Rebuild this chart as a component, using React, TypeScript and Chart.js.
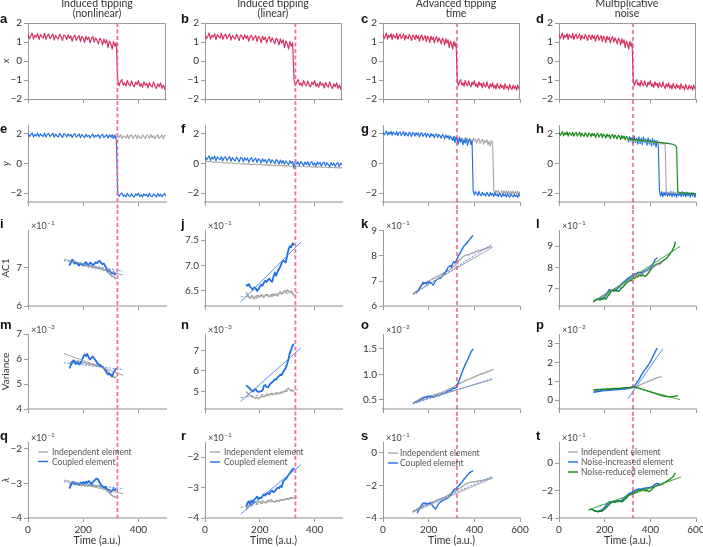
import React, { useEffect, useRef } from "react";
import { Chart, registerables } from "chart.js";
Chart.register(...registerables);

const FONT = "Lato, 'Noto Sans', sans-serif";
Chart.defaults.font.family = FONT;
Chart.defaults.color = "#333";

// ---------------- sampling ----------------
const STEP = 5;
const STEP_COARSE = 10;

// ---------------- row 1: x (shared driver) ----------------
const X_TRACE = [
  1.42, 1.18, 1.3, 1.47, 1.15, 1.36, 1.25, 1.44, 1.12, 1.39,
  1.28, 1.2, 1.46, 1.14, 1.33, 1.41, 1.17, 1.29, 1.43, 1.1,
  1.35, 1.22, 1.16, 1.4, 1.27, 1.08, 1.37, 1.31, 1.13, 1.38,
  1.19, 1.33, 1.04, 1.28, 1.36, 1.09, 1.24, 1.34, 1.02, 1.3,
  1.21, 0.97, 1.31, 1.12, 1.26, 0.95, 1.18, 1.29, 0.99, 1.22,
  1.08, 0.9, 1.2, 1.11, 0.84, 1.17, 0.94, 1.12, 0.7, 1.05,
  0.92, 0.62, 1.03, 0.78, 0.96,
  -0.98, -1.3, -1.1, -0.97, -1.27, -1.15, -1.33, -1.02, -1.22, -1.31,
  -1.05, -1.26, -1.36, -1.11, -1.24, -1.03, -1.34, -1.19, -1.39, -1.09,
  -1.28, -1.17, -1.42, -1.13, -1.3, -1.38, -1.1, -1.33, -1.45, -1.2,
  -1.36, -1.15, -1.44, -1.27, -1.48, -1.18, -1.35, -1.46, -1.22, -1.4,
  -1.29, -1.5, -1.19, -1.43, -1.34, -1.52, -1.24, -1.41, -1.49, -1.27,
  -1.45, -1.32, -1.53, -1.26, -1.47, -1.4,
];

// ---------------- row 2: y ----------------
const E_COUPLED = [
  2.04, 1.82, 1.95, 2.07, 1.79, 1.98, 1.86, 2.05, 1.8, 2.0,
  1.89, 1.83, 2.06, 1.78, 1.97, 2.03, 1.81, 1.92, 2.05, 1.77,
  1.99, 1.85, 1.79, 2.04, 1.9, 1.76, 2.02, 1.94, 1.8, 2.01,
  1.84, 1.97, 1.75, 1.93, 2.02, 1.78, 1.88, 2.0, 1.74, 1.95,
  1.86, 1.73, 1.98, 1.81, 1.92, 1.72, 1.87, 1.99, 1.76, 1.91,
  1.83, 1.96, 1.71, 1.9, 1.97, 1.75, 1.85, 1.95, 1.72, 1.93,
  1.8, 1.94, 1.7, 1.89, 1.6,
  -2.0, -2.23, -2.08, -1.98, -2.21, -2.12, -2.25, -2.02, -2.17, -2.24,
  -2.03, -2.19, -2.26, -2.06, -2.15, -2.0, -2.23, -2.11, -2.25, -2.04,
  -2.18, -2.09, -2.26, -2.01, -2.2, -2.24, -2.05, -2.16, -2.27, -2.03,
  -2.21, -2.07, -2.25, -2.12, -2.02, -2.22,
];
const E_IND_START = 300;
const E_IND = [
  1.93, 1.71, 1.86, 1.97, 1.69, 1.9, 1.75, 1.95, 1.68, 1.88,
  1.79, 1.72, 1.96, 1.67, 1.89, 1.93, 1.7, 1.84, 1.95, 1.66,
  1.91, 1.76, 1.69, 1.94, 1.82, 1.67, 1.92, 1.87, 1.7, 1.96,
  1.73, 1.89, 1.66, 1.84, 1.94, 1.69, 1.8, 1.92, 1.67, 1.9,
  1.85,
];
const F_COUPLED = [
  0.49, 0.24, 0.38, 0.52, 0.21, 0.43, 0.3, 0.5, 0.19, 0.44,
  0.33, 0.25, 0.47, 0.18, 0.39, 0.45, 0.2, 0.34, 0.46, 0.15,
  0.4, 0.26, 0.17, 0.43, 0.31, 0.12, 0.41, 0.35, 0.14, 0.39,
  0.22, 0.37, 0.09, 0.31, 0.39, 0.11, 0.27, 0.36, 0.06, 0.33,
  0.23, 0.04, 0.32, 0.14, 0.27, 0.01, 0.22, 0.3, 0.03, 0.25,
  0.12, -0.02, 0.27, 0.17, -0.05, 0.23, 0.02, 0.2, -0.06, 0.18,
  0.05, -0.09, 0.19, 0.0, 0.14, -0.35, 0.16, -0.04, 0.11, -0.13,
  0.14, 0.01, -0.14, 0.1, -0.08, 0.13, -0.16, 0.06, 0.12, -0.12,
  0.04, -0.17, 0.1, -0.05, 0.07, -0.19, 0.03, 0.09, -0.15, 0.05,
  -0.08, -0.21, 0.06, -0.12, 0.04, -0.2, -0.02, 0.05, -0.22, 0.02,
  -0.1,
];
const F_IND = [
  0.18, 0.1, 0.15, 0.08, 0.12, 0.05, 0.1, 0.02, 0.07, 0.0,
  0.05, -0.02, 0.03, -0.05, 0.01, -0.07, -0.01, -0.09, -0.03, -0.1,
  -0.05, -0.12, -0.07, -0.13, -0.09, -0.15, -0.1, -0.17, -0.12, -0.18,
  -0.14, -0.2, -0.15, -0.21, -0.17, -0.22, -0.18, -0.24, -0.2, -0.25,
  -0.21, -0.26, -0.22, -0.27, -0.24, -0.28, -0.25, -0.29, -0.26, -0.3,
  -0.28,
];
const G_COUPLED = [
  2.17, 1.93, 2.06, 2.2, 1.91, 2.11, 1.98, 2.18, 1.9, 2.13,
  2.01, 1.94, 2.16, 1.88, 2.07, 2.14, 1.89, 2.03, 2.15, 1.86,
  2.09, 1.95, 1.87, 2.12, 2.0, 1.83, 2.1, 2.04, 1.85, 2.08,
  1.92, 2.06, 1.8, 2.01, 2.09, 1.82, 1.96, 2.05, 1.78, 2.02,
  1.93, 1.76, 2.03, 1.86, 1.98, 1.73, 1.94, 2.0, 1.75, 1.96,
  1.85, 1.7, 1.95, 1.88, 1.66, 1.92, 1.74, 1.89, 1.63, 1.86,
  1.72, 1.55, 1.84, 1.4, 1.78, 1.62, 1.3, 1.74, 1.45, 1.66,
  1.25, 1.6, 1.38, 1.68, 1.22, 1.55, 1.64, 1.28, 1.5, -1.88,
  -2.12, -1.9, -2.03, -2.16, -1.88, -2.08, -2.18, -1.95, -2.13, -2.05,
  -2.19, -1.94, -2.1, -2.21, -1.97, -2.14, -2.02, -2.22, -1.96, -2.17,
  -2.08, -2.24, -1.99, -2.16, -2.25, -2.03, -2.19, -2.1, -2.27, -2.01,
  -2.2, -2.28, -2.05, -2.18, -2.26, -2.07, -2.23, -2.12, -2.3, -2.04,
  -2.22,
];
const G_IND_START = 300;
const G_IND = [
  1.79, 1.56, 1.7, 1.83, 1.53, 1.74, 1.6, 1.81, 1.5, 1.72,
  1.63, 1.47, 1.76, 1.55, 1.68, 1.44, 1.71, 1.58, 1.42, 1.7,
  1.52, 1.66, 1.37, 1.6, 1.69, 1.35, 1.55, 1.64, 1.3, 1.58,
  1.4, 1.61, 1.24, 1.5, 1.18, 1.54, 1.45, -1.8, -2.0, -1.82,
  -2.02, -1.81, -2.0, -2.05, -1.83, -2.03, -1.84, -2.06, -1.85, -2.04,
  -1.86, -2.07, -1.87, -2.05, -1.85, -2.08, -1.88, -2.06, -1.86, -2.09,
  -1.9,
];
const H_GREEN = [
  2.13, 1.89, 2.02, 2.16, 1.86, 2.07, 1.94, 2.14, 1.85, 2.09,
  1.97, 1.9, 2.12, 1.84, 2.03, 2.1, 1.85, 1.99, 2.11, 1.82,
  2.05, 1.91, 1.83, 2.08, 1.96, 1.79, 2.06, 2.0, 1.81, 2.04,
  1.88, 2.02, 1.76, 1.97, 2.05, 1.78, 1.92, 2.01, 1.74, 1.98,
  1.89, 1.72, 1.99, 1.82, 1.94, 1.69, 1.9, 1.96, 1.71, 1.92,
  1.81, 1.66, 1.91, 1.84, 1.62, 1.88, 1.7, 1.85, 1.59, 1.82,
  1.78, 1.6, 1.72, 1.62, 1.66, 1.59, 1.65, 1.57, 1.62, 1.56,
  1.59, 1.55, 1.57, 1.53, 1.55, 1.52, 1.54, 1.5, 1.52, 1.49,
  1.5, 1.47, 1.49, 1.45, 1.47, 1.44, 1.45, 1.42, 1.44, 1.4,
  1.42, 1.38, 1.4, 1.36, 1.38, 1.35, 1.36, 1.32, 1.33, 1.3,
  1.3, 1.25, 1.2, 1.1, -1.9, -1.96, -1.99, -1.97, -2.0, -1.98,
  -2.01, -1.99, -2.02, -2.0, -2.03, -2.01, -2.04, -2.02, -2.05, -2.03,
  -2.04,
];
const H_SIDE_START = 300;
const H_BLUE = [
  1.7, 1.45, 1.82, 1.5, 1.75, 1.38, 1.85, 1.42, 1.7, 1.3,
  1.8, 1.35, 1.72, 1.28, 1.78, 1.4, 1.65, 1.22, 1.75, 1.32,
  1.62, 1.18, 1.7, 1.25, 1.58, 1.1, 1.55, 1.2, -1.85, -2.2,
  -1.9, -2.25, -1.95, -2.15, -1.85, -2.22, -1.98, -2.18, -1.88, -2.25,
  -1.92, -2.2, -1.96, -2.28, -1.9, -2.17, -2.0, -2.24, -1.89, -2.21,
  -1.95, -2.26, -1.93, -2.19, -2.02, -2.27, -1.94, -2.2, -1.99, -2.28,
  -2.05,
];
const H_GRAY = [
  1.66, 1.55, 1.64, 1.53, 1.62, 1.52, 1.61, 1.5, 1.6, 1.49,
  1.58, 1.47, 1.57, 1.46, 1.55, 1.44, 1.54, 1.43, 1.52, 1.41,
  1.51, 1.4, 1.49, 1.38, 1.47, 1.36, 1.46, 1.34, 1.44, 1.32,
  1.42, 1.3, 1.38, 1.25, -1.92, -1.98, -1.94, -2.0, -1.95, -2.01,
  -1.96, -2.02, -1.97, -2.01, -1.95, -2.03, -1.98, -2.02, -1.96, -2.04,
  -1.99, -2.03, -1.97, -2.05, -2.0, -2.04, -1.98, -2.05, -2.01, -2.06,
  -2.02,
];

// ---------------- rows 3-5: indicators (values in displayed units) ----------------
const IND_START = 150;
const I_COUPLED = [
  7.05, 7.12, 7.2, 7.17, 7.1, 7.13, 7.08, 7.05, 7.11, 7.09,
  7.06, 7.1, 7.14, 7.09, 7.07, 7.12, 7.1, 7.06, 7.09, 7.13,
  7.11, 7.15, 7.17, 7.12, 7.08, 7.1, 7.03, 6.97, 6.9, 6.93,
  6.87, 6.84, 6.88, 6.82, 6.85,
];
const I_IND = [
  7.15, 7.13, 7.16, 7.12, 7.1, 7.13, 7.09, 7.07, 7.1, 7.06,
  7.04, 7.07, 7.03, 7.05, 7.01, 7.04, 7.02, 6.99, 7.02, 6.98,
  7.0, 6.97, 6.99, 6.95, 6.97, 6.93, 6.95, 6.9, 6.86, 6.84,
  6.8, 6.76, 6.78, 6.72, 6.7,
];
const I_FIT_IND = [[130, 7.22], [345, 6.8]];
const I_FIT_CPL = [[130, 7.18], [345, 6.9]];

const M_COUPLED = [
  5.62, 5.75, 5.88, 5.95, 5.85, 5.8, 5.86, 5.78, 5.82, 5.95,
  6.08, 6.18, 6.12, 6.2, 6.05, 5.98, 6.05, 6.1, 6.02, 5.95,
  5.85, 5.8, 5.76, 5.72, 5.7, 5.62, 5.55, 5.45, 5.38, 5.42,
  5.35, 5.3, 5.45, 5.55, 5.62,
];
const M_IND = [
  5.8, 5.86, 5.9, 5.85, 5.92, 5.88, 5.93, 5.9, 5.86, 5.88,
  5.84, 5.86, 5.82, 5.8, 5.83, 5.79, 5.78, 5.8, 5.76, 5.74,
  5.76, 5.72, 5.7, 5.72, 5.67, 5.63, 5.6, 5.55, 5.5, 5.45,
  5.4, 5.33, 5.28, 5.25, 5.3,
];
const M_FIT_IND = [[130, 6.22], [345, 5.35]];
const M_FIT_CPL = [[130, 5.85], [345, 5.58]];

const Q_COUPLED = [
  -3.15, -3.05, -2.98, -2.95, -3.02, -2.98, -3.0, -3.03, -2.97, -3.01,
  -2.96, -3.0, -2.95, -2.99, -2.93, -2.97, -3.02, -2.96, -2.92, -2.88,
  -2.86, -2.9, -2.98, -3.05, -3.08, -3.12, -3.1, -3.15, -3.2, -3.18,
  -3.25, -3.2, -3.16, -3.19, -3.15,
];
const Q_IND = [
  -3.0, -3.02, -2.99, -3.03, -3.0, -3.04, -3.02, -3.05, -3.03, -3.06,
  -3.04, -3.07, -3.05, -3.08, -3.06, -3.04, -3.07, -3.05, -3.08, -3.06,
  -3.09, -3.07, -3.1, -3.12, -3.1, -3.14, -3.16, -3.2, -3.24, -3.28,
  -3.32, -3.35, -3.38, -3.4, -3.37,
];
const Q_FIT_IND = [[130, -2.9], [345, -3.3]];
const Q_FIT_CPL = [[130, -2.95], [345, -3.15]];

const J_COUPLED = [
  6.62, 6.6, 6.63, 6.58, 6.55, 6.52, 6.57, 6.55, 6.5, 6.53,
  6.58, 6.62, 6.6, 6.66, 6.7, 6.68, 6.72, 6.74, 6.7, 6.68,
  6.78, 6.86, 6.8, 6.88, 6.93, 6.98, 7.05, 7.1, 7.08, 7.06,
  7.2, 7.32, 7.38, 7.36, 7.44, 7.4,
];
const J_IND = [
  6.47, 6.42, 6.38, 6.35, 6.4, 6.37, 6.34, 6.39, 6.36, 6.4,
  6.38, 6.42, 6.39, 6.37, 6.41, 6.43, 6.4, 6.38, 6.42, 6.39,
  6.44, 6.41, 6.43, 6.4, 6.45, 6.48, 6.44, 6.46, 6.5, 6.47,
  6.52, 6.49, 6.47, 6.5, 6.45, 6.4,
];
const J_FIT_IND = [[130, 6.38], [345, 6.47]];
const J_FIT_CPL = [[130, 6.28], [350, 7.46]];

const N_COUPLED = [
  5.3, 5.25, 5.2, 5.12, 5.05, 5.0, 5.08, 5.12, 5.02, 4.98,
  5.0, 5.02, 5.05, 5.28, 5.32, 5.22, 5.2, 5.3, 5.4, 5.45,
  5.52, 5.6, 5.58, 5.7, 5.75, 5.82, 5.8, 5.95, 6.05, 6.15,
  6.35, 6.6, 6.9, 7.05, 7.25, 7.3,
];
const N_IND = [
  5.0, 4.92, 4.85, 4.8, 4.77, 4.73, 4.7, 4.68, 4.72, 4.65,
  4.7, 4.75, 4.78, 4.74, 4.8, 4.83, 4.8, 4.85, 4.88, 4.84,
  4.86, 4.9, 4.88, 4.92, 4.9, 4.95, 4.93, 4.98, 5.0, 5.05,
  5.12, 5.16, 5.08, 5.04, 5.06, 5.0,
];
const N_FIT_IND = [[130, 4.7], [345, 5.1]];
const N_FIT_CPL = [[130, 4.52], [350, 7.12]];

const R_COUPLED = [
  -3.65, -3.5, -3.45, -3.55, -3.42, -3.48, -3.4, -3.35, -3.3, -3.38,
  -3.33, -3.35, -3.28, -3.22, -3.26, -3.2, -3.18, -3.22, -3.12, -3.1,
  -3.15, -3.12, -3.05, -3.0, -3.02, -2.95, -2.98, -2.8, -2.75, -2.72,
  -2.65, -2.58, -2.52, -2.45, -2.4, -2.35,
];
const R_IND = [
  -3.72, -3.65, -3.58, -3.55, -3.6, -3.52, -3.5, -3.48, -3.53, -3.46,
  -3.45, -3.49, -3.44, -3.47, -3.5, -3.46, -3.42, -3.45, -3.4, -3.43,
  -3.46, -3.48, -3.44, -3.42, -3.45, -3.4, -3.42, -3.39, -3.41, -3.37,
  -3.36, -3.38, -3.34, -3.33, -3.36, -3.35,
];
const R_FIT_IND = [[130, -3.65], [345, -3.3]];
const R_FIT_CPL = [[130, -3.87], [350, -2.25]];

const K_CPL_START = 145;
const K_COUPLED = [
  6.5, 6.58, 6.62, 6.7, 6.78, 6.85, 6.95, 6.9, 6.93, 6.88,
  6.95, 6.92, 6.97, 6.93, 6.88, 6.84, 6.92, 7.0, 7.05, 7.08,
  7.12, 7.1, 7.15, 7.2, 7.25, 7.3, 7.38, 7.45, 7.55, 7.58,
  7.62, 7.55, 7.7, 7.78, 7.72, 7.8, 7.9, 8.0, 8.08, 8.15,
  8.25, 8.32, 8.4, 8.45, 8.5, 8.55, 8.6, 8.68, 8.72, 8.78,
  8.82,
];
const K_IND_START = 135;
const K_IND = [
  6.48, 6.58, 6.66, 6.8, 6.86, 6.92, 6.98, 7.02, 7.08, 7.12,
  7.18, 7.2, 7.27, 7.3, 7.38, 7.42, 7.47, 7.55, 7.62, 7.72,
  7.85, 7.93, 8.0, 8.05, 8.04, 8.1, 8.13, 8.17, 8.2, 8.22,
  8.26, 8.28, 8.32, 8.35, 8.38,
];
const K_FIT_IND = [[130, 6.5], [480, 8.35]];
const K_FIT_CPL = [[130, 6.45], [480, 8.48]];

const O_START = 135;
const O_COUPLED = [
  0.44, 0.45, 0.46, 0.46, 0.48, 0.49, 0.5, 0.51, 0.53, 0.54,
  0.55, 0.55, 0.56, 0.57, 0.56, 0.57, 0.56, 0.55, 0.56, 0.57,
  0.58, 0.59, 0.58, 0.6, 0.61, 0.62, 0.63, 0.63, 0.64, 0.66,
  0.67, 0.68, 0.68, 0.7, 0.72, 0.73, 0.72, 0.74, 0.78, 0.84,
  0.9, 0.96, 1.02, 1.08, 1.14, 1.19, 1.23, 1.28, 1.33, 1.38,
  1.43, 1.47, 1.5,
];
const O_IND = [
  0.44, 0.47, 0.5, 0.53, 0.55, 0.56, 0.57, 0.56, 0.58, 0.6,
  0.61, 0.63, 0.64, 0.66, 0.68, 0.7, 0.72, 0.74, 0.77, 0.8,
  0.82, 0.84, 0.86, 0.89, 0.9, 0.92, 0.94, 0.96, 0.98, 1.0,
  1.01, 1.03, 1.05, 1.06, 1.08, 1.1,
];
const O_FIT_IND = [[130, 0.44], [480, 0.9]];
const O_FIT_CPL = [[130, 0.42], [480, 0.92]];

const S_COUPLED = [
  -3.7, -3.55, -3.42, -3.3, -3.18, -3.12, -3.08, -3.12, -3.1, -3.15,
  -3.12, -3.08, -3.12, -3.2, -3.3, -3.38, -3.45, -3.35, -3.22, -3.1,
  -3.05, -2.98, -2.95, -2.9, -2.88, -2.85, -2.8, -2.75, -2.7, -2.62,
  -2.55, -2.4, -2.28, -2.22, -2.2, -2.12, -2.05, -1.98, -1.9, -1.82,
  -1.72, -1.62, -1.55, -1.45, -1.38, -1.3, -1.22, -1.18, -1.14, -1.12,
];
const S_IND_START = 130;
const S_IND = [
  -3.65, -3.55, -3.45, -3.38, -3.3, -3.22, -3.18, -3.1, -3.05, -3.0,
  -2.95, -2.88, -2.85, -2.78, -2.72, -2.65, -2.58, -2.48, -2.4, -2.3,
  -2.22, -2.15, -2.05, -1.95, -1.88, -1.82, -1.8, -1.78, -1.76, -1.72,
  -1.7, -1.68, -1.65, -1.62, -1.58, -1.55,
];
const S_FIT_IND = [[130, -3.65], [480, -1.55]];
const S_FIT_CPL = [[130, -3.58], [480, -1.45]];

const L_GREEN = [
  6.4, 6.45, 6.5, 6.48, 6.52, 6.5, 6.48, 6.53, 6.55, 6.52,
  6.55, 6.52, 6.6, 6.68, 6.75, 6.82, 6.92, 6.95, 6.92, 6.94,
  6.9, 6.92, 6.88, 6.93, 7.0, 7.05, 7.08, 7.15, 7.2, 7.28,
  7.32, 7.35, 7.4, 7.38, 7.45, 7.5, 7.48, 7.55, 7.58, 7.55,
  7.62, 7.65, 7.6, 7.68, 7.62, 7.58, 7.6, 7.65, 7.72, 7.8,
  7.88, 7.95, 8.0, 8.05, 8.1, 8.12, 8.15, 8.18, 8.16, 8.2,
  8.25, 8.3, 8.35, 8.38, 8.42, 8.48, 8.55, 8.62, 8.7, 8.78,
  8.88, 9.0, 9.2,
];
const L_BLUE = [
  6.42, 6.5, 6.53, 6.5, 6.56, 6.62, 6.8, 6.96, 6.93, 6.9,
  6.95, 7.05, 7.18, 7.3, 7.38, 7.48, 7.55, 7.62, 7.7, 7.72,
  7.78, 7.75, 7.8, 7.85, 7.92, 8.0, 8.1, 8.35, 8.45,
];
const L_GRAY = [
  6.45, 6.48, 6.52, 6.55, 6.58, 6.65, 6.75, 6.88, 6.92, 6.95,
  7.0, 7.06, 7.12, 7.22, 7.3, 7.38, 7.45, 7.5, 7.56, 7.62,
  7.68, 7.72, 7.76, 7.82, 7.88, 7.95, 8.02, 8.1, 8.18, 8.24,
  8.3,
];
const L_FIT_GREEN = [[150, 6.38], [530, 8.98]];
const L_FIT_GRAY = [[150, 6.45], [450, 8.25]];

const P_BLUE = [
  0.42, 0.44, 0.46, 0.48, 0.5, 0.51, 0.52, 0.53, 0.54, 0.55,
  0.56, 0.57, 0.58, 0.59, 0.6, 0.62, 0.64, 0.68, 0.75, 0.92,
  1.1, 1.32, 1.52, 1.68, 1.85, 2.05, 2.3, 2.55, 2.78,
];
const P_GRAY = [
  0.5, 0.51, 0.52, 0.53, 0.54, 0.55, 0.56, 0.56, 0.57, 0.58,
  0.59, 0.6, 0.61, 0.62, 0.63, 0.64, 0.65, 0.66, 0.68, 0.72,
  0.78, 0.84, 0.9, 0.95, 1.0, 1.05, 1.1, 1.15, 1.2, 1.23,
  1.26,
];
const P_GREEN = [
  0.55, 0.56, 0.57, 0.57, 0.58, 0.59, 0.6, 0.6, 0.61, 0.62,
  0.62, 0.63, 0.64, 0.65, 0.66, 0.67, 0.68, 0.7, 0.71, 0.68,
  0.64, 0.6, 0.56, 0.52, 0.48, 0.45, 0.4, 0.36, 0.32, 0.28,
  0.25, 0.22, 0.2, 0.18, 0.17, 0.19, 0.22, 0.25,
];
const P_FIT_BLUE = [[300, 0.05], [455, 2.75]];
const P_FIT_GREEN = [[320, 0.72], [530, 0.03]];

const T_GREEN_START = 130;
const T_GREEN = [
  -3.4, -3.38, -3.35, -3.38, -3.42, -3.48, -3.52, -3.5, -3.55, -3.53,
  -3.5, -3.52, -3.48, -3.42, -3.35, -3.28, -3.2, -3.1, -3.02, -2.95,
  -2.85, -2.8, -2.83, -2.86, -2.82, -2.78, -2.8, -2.76, -2.79, -2.82,
  -2.78, -2.7, -2.62, -2.55, -2.45, -2.38, -2.32, -2.28, -2.22, -2.2,
  -2.15, -2.12, -2.08, -2.02, -1.98, -1.95, -1.97, -1.93, -1.96, -2.0,
  -2.02, -1.98, -2.04, -2.08, -2.02, -1.95, -1.85, -1.78, -1.72, -1.68,
  -1.62, -1.58, -1.6, -1.55, -1.52, -1.48, -1.45, -1.4, -1.35, -1.3,
  -1.25, -1.2, -1.12, -1.05, -0.98, -0.85, -0.72,
];
const T_BLUE = [
  -3.45, -3.5, -3.52, -3.48, -3.4, -3.22, -3.0, -2.82, -2.85, -2.8,
  -2.78, -2.76, -2.8, -2.65, -2.5, -2.3, -2.2, -2.12, -2.02, -1.92,
  -1.88, -1.9, -1.85, -1.82, -1.8, -1.78, -1.7, -1.55, -1.48, -1.52,
];
const T_GRAY = [
  -3.42, -3.48, -3.5, -3.45, -3.38, -3.25, -3.05, -2.9, -2.85, -2.82,
  -2.8, -2.78, -2.75, -2.62, -2.48, -2.35, -2.22, -2.15, -2.08, -2.02,
  -1.96, -1.93, -1.9, -1.87, -1.84, -1.8, -1.76, -1.7, -1.65, -1.62,
  -1.58, -1.55,
];
const T_FIT_GREEN = [[130, -3.4], [535, -1.02]];

// ---------------- axes ----------------
const COLUMN_TITLES = [
  ["Induced tipping", "(nonlinear)"],
  ["Induced tipping", "(linear)"],
  ["Advanced tipping", "time"],
  ["Multiplicative", "noise"],
];
const ROW_LABELS = ["x", "y", "AC1", "Variance", "λ"];
const ROW_LABEL_ITALIC = [true, true, false, false, true];
const LETTERS = [
  ["a", "b", "c", "d"],
  ["e", "f", "g", "h"],
  ["i", "j", "k", "l"],
  ["m", "n", "o", "p"],
  ["q", "r", "s", "t"],
];
const X_MAX = [500, 500, 600, 600];
const X_TICKS = [[0, 200, 400], [0, 200, 400], [0, 200, 400, 600], [0, 200, 400, 600]];
const TIP_TIME = [324, 330, 324, 324];
const X_TITLE = "Time (a.u.)";

const Y_RANGE = [
  [[-2, 2], [-2, 2], [-2, 2], [-2, 2]],
  [[-2.6, 2.6], [-2.6, 2.6], [-2.6, 2.6], [-2.6, 2.6]],
  [[6, 7.97], [6.2, 7.7], [6, 9.04], [6.2, 9.75]],
  [[4, 7], [4.15, 7.8], [0.32, 1.79], [-0.47, 3.53]],
  [[-4, -1.8], [-4, -1.5], [-4, 0.65], [-4, 1.53]],
];
const Y_TICKS = [
  [[-2, -1, 0, 1, 2], [-2, -1, 0, 1, 2], [-2, -1, 0, 1, 2], [-2, -1, 0, 1, 2]],
  [[-2, 0, 2], [-2, 0, 2], [-2, 0, 2], [-2, 0, 2]],
  [[6, 7], [6.5, 7, 7.5], [6, 7, 8, 9], [7, 8, 9]],
  [[4, 5, 6, 7], [5, 6, 7], [0.5, 1, 1.5], [0, 1, 2, 3]],
  [[-4, -3, -2], [-4, -3, -2], [-4, -2, 0], [-4, -2, 0]],
];
const Y_DECIMALS = [
  [0, 0, 0, 0],
  [0, 0, 0, 0],
  [0, 1, 0, 0],
  [0, 0, 1, 0],
  [0, 0, 0, 0],
];
const ROW_EXPONENT = [
  [null, null, null, null],
  [null, null, null, null],
  ["−1", "−1", "−1", "−1"],
  ["−3", "−3", "−2", "−2"],
  ["−1", "−1", "−1", "−1"],
];
const LEGEND_IND = "Independent element";
const LEGEND_CPL = "Coupled element";
const LEGEND_INC = "Noise-increased element";
const LEGEND_RED = "Noise-reduced element";

// ---------------- styles / layout ----------------
const RED = "#d42f5c";
const BLUE = "#1f6fe2";
const GRAY = "#a9a9a9";
const GREEN = "#16871b";
const FIT_GRAY = "#9a9a9a";
const FIT_BLUE = "#4287ea";
const FIT_GREEN = "#2d9b31";

const COL_LEFT = [28, 205, 383, 559];
const COL_WIDTH = [138, 137, 137, 137];
const ROW_TOP = [23, 125, 230, 334, 442];
const ROW_BOTTOM = [99, 202, 306, 409, 518];
const X_AXIS_H = [8, 8, 8, 8, 29];
const Y_AXIS_W = [28, 30, 30, 30];
const PAD_RIGHT = 9;
const FIRST_PAD_TOP = 10;
const TITLE_CENTER = [97, 273, 456, 627];
const LETTER_LEFT = [0, 181, 361, 536];
const LETTER_BASE = [23, 133, 228, 329, 440];

const xy = (start: number, step: number, vals: number[]) =>
  vals.map((y, i) => ({ x: start + i * step, y }));
const seg = (pts: number[][]) => pts.map(([x, y]) => ({ x, y }));

type Line = { data: { x: number; y: number }[]; color: string; width: number; dash?: number[] };
const noise = (data: any, color: string): Line => ({ data, color, width: 1.15 });
const curve = (data: any, color: string, width = 1.6): Line => ({ data, color, width });
const fitLine = (pts: number[][], color: string, dash?: number[]): Line => ({
  data: seg(pts),
  color,
  width: 0.9,
  dash,
});

// series listed bottom -> top
const SERIES: Line[][][] = [
  [
    [noise(xy(0, STEP, X_TRACE), RED)],
    [noise(xy(0, STEP, X_TRACE), RED)],
    [noise(xy(0, STEP, X_TRACE), RED)],
    [noise(xy(0, STEP, X_TRACE), RED)],
  ],
  [
    [noise(xy(E_IND_START, STEP, E_IND), GRAY), noise(xy(0, STEP, E_COUPLED), BLUE)],
    [noise(xy(0, STEP_COARSE, F_IND), GRAY), noise(xy(0, STEP, F_COUPLED), BLUE)],
    [noise(xy(G_IND_START, STEP, G_IND), GRAY), noise(xy(0, STEP, G_COUPLED), BLUE)],
    [
      noise(xy(H_SIDE_START, STEP, H_BLUE), BLUE),
      noise(xy(H_SIDE_START, STEP, H_GRAY), GRAY),
      noise(xy(0, STEP, H_GREEN), GREEN),
    ],
  ],
  [
    [curve(xy(IND_START, STEP, I_IND), GRAY), curve(xy(IND_START, STEP, I_COUPLED), BLUE, 1.8), fitLine(I_FIT_IND, FIT_GRAY), fitLine(I_FIT_CPL, FIT_BLUE, [2, 1.5])],
    [curve(xy(IND_START, STEP, J_IND), GRAY), curve(xy(IND_START, STEP, J_COUPLED), BLUE, 1.8), fitLine(J_FIT_IND, FIT_GRAY, [3, 2]), fitLine(J_FIT_CPL, FIT_BLUE)],
    [curve(xy(K_IND_START, STEP_COARSE, K_IND), GRAY, 1.4), curve(xy(K_CPL_START, STEP, K_COUPLED), BLUE, 1.4), fitLine(K_FIT_IND, FIT_GRAY), fitLine(K_FIT_CPL, FIT_BLUE, [2, 1.5])],
    [curve(xy(IND_START, STEP_COARSE, L_GRAY), GRAY, 1.4), curve(xy(IND_START, STEP_COARSE, L_BLUE), BLUE, 1.4), curve(xy(IND_START, STEP, L_GREEN), GREEN, 1.4), fitLine(L_FIT_GRAY, FIT_GRAY), fitLine(L_FIT_GREEN, FIT_GREEN)],
  ],
  [
    [curve(xy(IND_START, STEP, M_IND), GRAY), curve(xy(IND_START, STEP, M_COUPLED), BLUE, 1.8), fitLine(M_FIT_IND, FIT_GRAY), fitLine(M_FIT_CPL, FIT_BLUE, [2, 1.5])],
    [curve(xy(IND_START, STEP, N_IND), GRAY), curve(xy(IND_START, STEP, N_COUPLED), BLUE, 1.8), fitLine(N_FIT_IND, FIT_GRAY, [3, 2]), fitLine(N_FIT_CPL, FIT_BLUE)],
    [curve(xy(O_START, STEP_COARSE, O_IND), GRAY, 1.4), curve(xy(O_START, STEP, O_COUPLED), BLUE, 1.4), fitLine(O_FIT_IND, FIT_GRAY), fitLine(O_FIT_CPL, FIT_BLUE, [2, 1.5])],
    [curve(xy(IND_START, STEP_COARSE, P_GRAY), GRAY, 1.4), curve(xy(IND_START, STEP_COARSE, P_BLUE), BLUE, 1.4), curve(xy(IND_START, STEP_COARSE, P_GREEN), GREEN, 1.4), fitLine(P_FIT_BLUE, FIT_BLUE), fitLine(P_FIT_GREEN, FIT_GREEN)],
  ],
  [
    [curve(xy(IND_START, STEP, Q_IND), GRAY), curve(xy(IND_START, STEP, Q_COUPLED), BLUE, 1.8), fitLine(Q_FIT_IND, FIT_GRAY), fitLine(Q_FIT_CPL, FIT_BLUE, [2, 1.5])],
    [curve(xy(IND_START, STEP, R_IND), GRAY), curve(xy(IND_START, STEP, R_COUPLED), BLUE, 1.8), fitLine(R_FIT_IND, FIT_GRAY, [3, 2]), fitLine(R_FIT_CPL, FIT_BLUE)],
    [curve(xy(S_IND_START, STEP_COARSE, S_IND), GRAY, 1.4), curve(xy(IND_START, STEP, S_COUPLED), BLUE, 1.4), fitLine(S_FIT_IND, FIT_GRAY), fitLine(S_FIT_CPL, FIT_BLUE, [2, 1.5])],
    [curve(xy(IND_START, STEP_COARSE, T_GRAY), GRAY, 1.4), curve(xy(IND_START, STEP_COARSE, T_BLUE), BLUE, 1.4), curve(xy(T_GREEN_START, STEP, T_GREEN), GREEN, 1.4), fitLine(T_FIT_GREEN, FIT_GREEN)],
  ],
];

const LEGENDS: any[] = [
  { x: 10, textX: 24, y: 10, dy: 9.5, items: [{ label: LEGEND_IND, color: GRAY }, { label: LEGEND_CPL, color: BLUE }] },
  { x: 5, textX: 19, y: 10, dy: 10, items: [{ label: LEGEND_IND, color: GRAY }, { label: LEGEND_CPL, color: BLUE }] },
  { x: 5, textX: 17, y: 11, dy: 10, items: [{ label: LEGEND_IND, color: GRAY }, { label: LEGEND_CPL, color: BLUE }] },
  {
    x: 9, textX: 22, y: 10, dy: 10,
    items: [
      { label: LEGEND_IND, color: GRAY },
      { label: LEGEND_INC, color: BLUE },
      { label: LEGEND_RED, color: GREEN },
    ],
  },
];

// ---------------- plugins ----------------
const framePlugin = {
  id: "frameBox",
  afterDraw(chart: any, _a: any, opts: any) {
    if (!opts || !opts.display) return;
    const { ctx, chartArea: a } = chart;
    ctx.save();
    ctx.strokeStyle = "#9a9a9a";
    ctx.lineWidth = 1;
    ctx.beginPath();
    ctx.moveTo(a.left, a.top + 0.5);
    ctx.lineTo(a.right - 0.5, a.top + 0.5);
    ctx.lineTo(a.right - 0.5, a.bottom);
    ctx.stroke();
    ctx.restore();
  },
};
const tipPlugin = {
  id: "tipLine",
  afterDatasetsDraw(chart: any, _a: any, opts: any) {
    if (!opts || opts.value == null) return;
    const { ctx, chartArea: a } = chart;
    const x = chart.scales.x.getPixelForValue(opts.value);
    const y0 = opts.fromTop ? a.top : 0;
    const y1 = opts.toBottom ? a.bottom : chart.height;
    ctx.save();
    ctx.strokeStyle = opts.color;
    ctx.lineWidth = opts.width;
    ctx.setLineDash(opts.dash);
    ctx.beginPath();
    ctx.moveTo(x, y0);
    ctx.lineTo(x, y1);
    ctx.stroke();
    ctx.restore();
  },
};
const legendPlugin = {
  id: "legendBox",
  afterDraw(chart: any, _a: any, opts: any) {
    if (!opts || !opts.items) return;
    const { ctx, chartArea: a } = chart;
    ctx.save();
    opts.items.forEach((it: any, k: number) => {
      const y = a.top + opts.y + k * opts.dy;
      ctx.strokeStyle = it.color;
      ctx.lineWidth = 1.4;
      ctx.beginPath();
      ctx.moveTo(a.left + opts.x, y);
      ctx.lineTo(a.left + opts.x + 10, y);
      ctx.stroke();
      ctx.fillStyle = "#555";
      ctx.font = `8.5px ${FONT}`;
      ctx.textBaseline = "middle";
      ctx.textAlign = "left";
      ctx.fillText(it.label, a.left + opts.textX, y + 0.5);
    });
    ctx.restore();
  },
};
const expPlugin = {
  id: "expLabel",
  afterDraw(chart: any, _a: any, opts: any) {
    if (!opts || !opts.exp) return;
    const { ctx, chartArea: a } = chart;
    ctx.save();
    ctx.fillStyle = "#444";
    ctx.textBaseline = "alphabetic";
    ctx.textAlign = "left";
    ctx.font = `9px ${FONT}`;
    const base = "×10";
    const x0 = a.left + 3;
    const y0 = a.top - 1;
    ctx.fillText(base, x0, y0);
    const w = ctx.measureText(base).width;
    ctx.font = `6.5px ${FONT}`;
    ctx.fillText(opts.exp, x0 + w + 0.5, y0 - 4);
    ctx.restore();
  },
};

function layoutFor(r: number, c: number) {
  const top = r === 0 ? ROW_TOP[0] - FIRST_PAD_TOP : ROW_BOTTOM[r - 1] + X_AXIS_H[r - 1];
  const padTop = ROW_TOP[r] - top;
  const height = padTop + ROW_BOTTOM[r] - ROW_TOP[r] + X_AXIS_H[r];
  const left = COL_LEFT[c] - Y_AXIS_W[c];
  const width = Y_AXIS_W[c] + COL_WIDTH[c] + PAD_RIGHT;
  return { top, left, width, height, padTop };
}

const fmt = (v: number, dec: number) => (dec ? v.toFixed(dec) : String(Math.round(v))).replace("-", "−");

function buildConfig(r: number, c: number): any {
  const lay = layoutFor(r, c);
  const series = SERIES[r][c];
  const n = series.length;
  const dec = Y_DECIMALS[r][c];
  const [ymin, ymax] = Y_RANGE[r][c];
  const tickFont = { family: FONT, size: 10 };
  const light = c < 2;
  return {
    type: "line",
    data: {
      datasets: series.map((s, i) => ({
        data: s.data,
        borderColor: s.color,
        borderWidth: s.width,
        borderDash: s.dash || [],
        pointRadius: 0,
        fill: false,
        tension: 0,
        order: n - i,
        borderJoinStyle: "round",
      })),
    },
    options: {
      animation: false,
      responsive: true,
      maintainAspectRatio: false,
      events: [],
      layout: { padding: { top: lay.padTop, right: PAD_RIGHT, left: 0, bottom: 0 } },
      scales: {
        x: {
          type: "linear",
          min: 0,
          max: X_MAX[c],
          bounds: "data",
          afterBuildTicks: (s: any) => {
            s.ticks = X_TICKS[c].map((v) => ({ value: v }));
          },
          afterFit: (s: any) => {
            s.height = X_AXIS_H[r];
            s.paddingLeft = 0;
            s.paddingRight = 0;
          },
          grid: { drawOnChartArea: false, drawTicks: true, tickLength: 4, color: "#9a9a9a", lineWidth: 1 },
          border: { display: true, color: r === 0 ? "#9a9a9a" : "#c6c6c6", width: r === 0 ? 1 : 2 },
          ticks: {
            display: r === 4,
            autoSkip: false,
            maxRotation: 0,
            padding: 2,
            font: tickFont,
            color: "#333",
            callback: (v: number) => fmt(v, 0),
          },
          title: {
            display: r === 4,
            text: X_TITLE,
            font: { family: FONT, size: 10.5, lineHeight: 1.2 },
            color: "#333",
            padding: { top: 0, bottom: 0 },
          },
        },
        y: {
          type: "linear",
          min: ymin,
          max: ymax,
          bounds: "data",
          afterBuildTicks: (s: any) => {
            s.ticks = Y_TICKS[r][c].map((v) => ({ value: v }));
          },
          afterFit: (s: any) => {
            s.width = Y_AXIS_W[c];
            s.paddingTop = 0;
            s.paddingBottom = 0;
          },
          grid: { drawOnChartArea: false, drawTicks: true, tickLength: 4, color: "#9a9a9a", lineWidth: 1 },
          border: { display: true, color: "#9a9a9a", width: 1 },
          ticks: {
            autoSkip: false,
            padding: 2,
            font: tickFont,
            color: "#333",
            callback: (v: number) => fmt(v, dec),
          },
          title: {
            display: c === 0,
            text: ROW_LABELS[r],
            font: { family: FONT, size: 10, style: ROW_LABEL_ITALIC[r] ? "italic" : "normal", lineHeight: 1 },
            color: "#333",
            padding: { top: 1, bottom: 0 },
          },
        },
      },
      plugins: {
        legend: { display: false },
        tooltip: { enabled: false },
        frameBox: { display: r === 0 },
        tipLine: {
          value: TIP_TIME[c],
          fromTop: r === 0,
          toBottom: r === 4,
          color: light ? "rgba(236,110,146,0.95)" : "#e23b66",
          width: light ? 1.8 : 1.2,
          dash: light ? [4, 2.5] : [4, 3],
        },
        legendBox: r === 4 ? LEGENDS[c] : {},
        expLabel: { exp: ROW_EXPONENT[r][c] },
      },
    },
    plugins: [framePlugin, tipPlugin, legendPlugin, expPlugin],
  };
}

function Panel({ r, c }: { r: number; c: number }) {
  const ref = useRef<HTMLCanvasElement | null>(null);
  useEffect(() => {
    const chart = new Chart(ref.current as HTMLCanvasElement, buildConfig(r, c));
    return () => chart.destroy();
  }, [r, c]);
  const lay = layoutFor(r, c);
  return (
    <div style={{ position: "absolute", left: lay.left, top: lay.top, width: lay.width, height: lay.height }}>
      <canvas ref={ref} />
    </div>
  );
}

export default function App() {
  const cells: React.ReactNode[] = [];
  for (let r = 0; r < 5; r++) for (let c = 0; c < 4; c++) cells.push(<Panel key={`${r}-${c}`} r={r} c={c} />);
  return (
    <div
      style={{
        position: "absolute",
        left: 0,
        top: 0,
        width: 703,
        height: 547,
        overflow: "hidden",
        background: "#fff",
        fontFamily: FONT,
      }}
    >
      {cells}
      {COLUMN_TITLES.map((t, c) => (
        <div
          key={`t${c}`}
          style={{
            position: "absolute",
            left: TITLE_CENTER[c] - 80,
            top: -2,
            width: 160,
            textAlign: "center",
            fontSize: 10.5,
            lineHeight: "10px",
            color: "#333",
          }}
        >
          {t[0]}
          <br />
          {t[1]}
        </div>
      ))}
      {LETTERS.map((row, r) =>
        row.map((L, c) => (
          <div
            key={`l${r}${c}`}
            style={{
              position: "absolute",
              left: LETTER_LEFT[c],
              top: LETTER_BASE[r] - 11,
              fontFamily: "'Liberation Sans', Arial, sans-serif",
              fontWeight: 700,
              fontSize: 13,
              lineHeight: "13px",
              color: "#111",
            }}
          >
            {L}
          </div>
        ))
      )}
    </div>
  );
}
